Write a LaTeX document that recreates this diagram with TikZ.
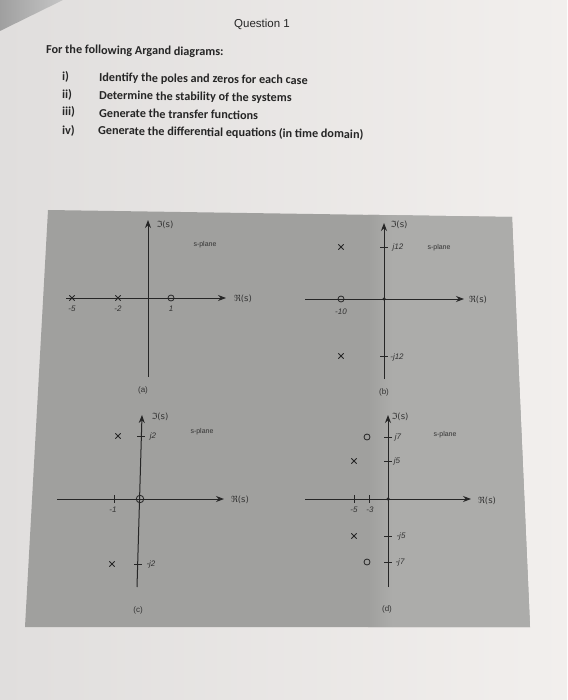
\documentclass[tikz,border=0pt]{standalone}
\usepackage{fontspec}
\setmainfont{Liberation Sans}
\newfontfamily\carl{Carlito}
\newfontfamily\dejav{DejaVu Sans}
\usetikzlibrary{arrows.meta,shapes.misc}
\definecolor{bgL}{HTML}{E0DEDD}
\definecolor{bgR}{HTML}{F2EFED}
\definecolor{panelL}{HTML}{A0A09E}
\definecolor{panelR}{HTML}{ACACAA}
\definecolor{ink}{HTML}{262626}
\definecolor{txt}{HTML}{262626}
\definecolor{dtxt}{HTML}{333333}
\tikzset{
  axis/.style={draw=ink, line width=1pt},
  arr/.style={axis, -{Stealth[length=8pt,width=6pt]}},
  tickline/.style={draw=ink, line width=0.9pt},
  pole/.style={cross out, draw=ink, line width=0.8pt, minimum size=4.5pt, inner sep=0pt},
  zero/.style={circle, draw=ink, line width=0.8pt, minimum size=6pt, inner sep=0pt},
  orig/.style={circle, fill=ink, minimum size=3.5pt, inner sep=0pt},
  lab/.style={text=dtxt, font=\fontsize{8}{9}\selectfont\itshape, inner sep=0pt},
  axlab/.style={text=dtxt, font=\dejav\fontsize{8.5}{10}\selectfont, inner sep=0pt},
  plane/.style={text=dtxt, font=\fontsize{7}{8}\selectfont, inner sep=0pt},
  figcap/.style={text=dtxt, font=\fontsize{8}{9}\selectfont, inner sep=0pt},
  hdr/.style={text=txt, font=\carl\bfseries\fontsize{12.2}{14}\selectfont, inner sep=0pt, anchor=west, rotate=-0.8},
}
\begin{document}
\begin{tikzpicture}[x=1pt,y=-1pt]
\useasboundingbox (0,0) rectangle (567,700);
% paper
\shade[left color=bgL, right color=bgR] (0,0) rectangle (567,700);
\shade[left color=gray!75, right color=gray!45] (0,0) -- (63,0) -- (0,31) -- cycle;
% grey panel
\begin{scope}
\clip (48,210) -- (512,217) -- (530,627) -- (25,627) -- cycle;
\fill[panelL] (0,200) rectangle (567,640);
\shade[left color=panelL, right color=panelR] (368,200) rectangle (392,640);
\fill[panelR] (392,200) rectangle (567,640);
\end{scope}

% header
\node[text=txt, font=\fontsize{11.5}{13}\selectfont, inner sep=0pt] (q) at (262,24) {Question 1};
\node[hdr] (intro) at (46,50) {For the following Argand diagrams:};
\node[hdr] (n1) at (62,77) {i)};
\node[hdr] (t1) at (99,78) {Identify the poles and zeros for each case};
\node[hdr] (n2) at (62,95) {ii)};
\node[hdr] (t2) at (99,96) {Determine the stability of the systems};
\node[hdr] (n3) at (62,112) {iii)};
\node[hdr] (t3) at (99,113) {Generate the transfer functions};
\node[hdr] (n4) at (62,131) {iv)};
\node[hdr] (t4) at (98,131) {Generate the differential equations (in time domain)};

% ---------- (a)
\coordinate (aB) at (148,377);
\coordinate (aT) at (148,220);
\coordinate (aL) at (66,298);
\coordinate (aR) at (226,298);
\draw[arr] (aB) -- (aT);
\draw[arr] (aL) -- (aR);
\node[pole] (ap1) at (72,298) {};
\node[pole] (ap2) at (118,298) {};
\node[zero] (az1) at (171,298) {};
\node[lab] (al1) at (72,309) {-5};
\node[lab] (al2) at (118,309) {-2};
\node[lab] (al3) at (171,309) {1};
\node[axlab] (aim) at (165,225) {ℑ(s)};
\node[axlab] (are) at (243,299) {ℜ(s)};
\node[plane] (apl) at (205,245) {s-plane};
\node[figcap] (acap) at (143,390) {(a)};

% ---------- (b)
\coordinate (bB) at (384,379);
\coordinate (bT) at (384,223);
\coordinate (bL) at (305,299);
\coordinate (bR) at (464,299);
\draw[arr] (bB) -- (bT);
\draw[arr] (bL) -- (bR);
\node[orig] (bo) at (384,299) {};
\coordinate (bt1) at (380,247);
\coordinate (bt1e) at (388,247);
\coordinate (bt2) at (380,356);
\coordinate (bt2e) at (388,356);
\draw[tickline] (bt1) -- (bt1e);
\draw[tickline] (bt2) -- (bt2e);
\node[pole] (bp1) at (341,247) {};
\node[pole] (bp2) at (341,356) {};
\node[zero] (bz1) at (341,299) {};
\node[lab] (bl1) at (341,312) {-10};
\node[lab] (bl2) at (398,247) {j12};
\node[lab] (bl3) at (397,357) {-j12};
\node[axlab] (bim) at (399,225) {ℑ(s)};
\node[axlab] (bre) at (478,300) {ℜ(s)};
\node[plane] (bpl) at (439,248) {s-plane};
\node[figcap] (bcap) at (384,392) {(b)};

% ---------- (c)
\coordinate (cB) at (137,587);
\coordinate (cT) at (142,415);
\coordinate (cL) at (57,499);
\coordinate (cR) at (224,499);
\draw[arr] (cB) -- (cT);
\draw[arr] (cL) -- (cR);
\node[zero, minimum size=7.5pt] (cz1) at (140,499) {};
\coordinate (ct1) at (137,436);
\coordinate (ct1e) at (145,436);
\coordinate (ct2) at (134,564);
\coordinate (ct2e) at (142,564);
\coordinate (ct3) at (114,495);
\coordinate (ct3e) at (114,503);
\draw[tickline] (ct1) -- (ct1e);
\draw[tickline] (ct2) -- (ct2e);
\draw[tickline] (ct3) -- (ct3e);
\node[pole] (cp1) at (118,436) {};
\node[pole] (cp2) at (112,564) {};
\node[lab] (cl1) at (113,510) {-1};
\node[lab] (cl2) at (153,436) {j2};
\node[lab] (cl3) at (151,564) {-j2};
\node[axlab] (cim) at (160,417) {ℑ(s)};
\node[axlab] (cre) at (240,500) {ℜ(s)};
\node[plane] (cpl) at (202,432) {s-plane};
\node[figcap] (ccap) at (138,610) {(c)};

% ---------- (d)
\coordinate (dB) at (388,587);
\coordinate (dT) at (388,415);
\coordinate (dL) at (305,499);
\coordinate (dR) at (471,499);
\draw[arr] (dB) -- (dT);
\draw[arr] (dL) -- (dR);
\node[orig] (do) at (388,499) {};
\foreach \yy/\nm in {437/a,461/b,536/c,562/d}{
  \coordinate (dt\nm) at (384,\yy);
  \coordinate (dt\nm e) at (392,\yy);
  \draw[tickline] (dt\nm) -- (dt\nm e);
}
\coordinate (dh1) at (354,495);
\coordinate (dh1e) at (354,503);
\coordinate (dh2) at (369,495);
\coordinate (dh2e) at (369,503);
\draw[tickline] (dh1) -- (dh1e);
\draw[tickline] (dh2) -- (dh2e);
\node[zero] (dz1) at (367,437) {};
\node[zero] (dz2) at (367,562) {};
\node[pole] (dp1) at (354,461) {};
\node[pole] (dp2) at (354,536) {};
\node[lab] (dl1) at (354,510) {-5};
\node[lab] (dl2) at (370,510) {-3};
\node[lab] (dl3) at (398,437) {j7};
\node[lab] (dl4) at (397,461) {j5};
\node[lab] (dl5) at (401,536) {-j5};
\node[lab] (dl6) at (400,562) {-j7};
\node[axlab] (dim) at (400,417) {ℑ(s)};
\node[axlab] (dre) at (487,501) {ℜ(s)};
\node[plane] (dpl) at (445,435) {s-plane};
\node[figcap] (dcap) at (387,609) {(d)};
\end{tikzpicture}
\end{document}
